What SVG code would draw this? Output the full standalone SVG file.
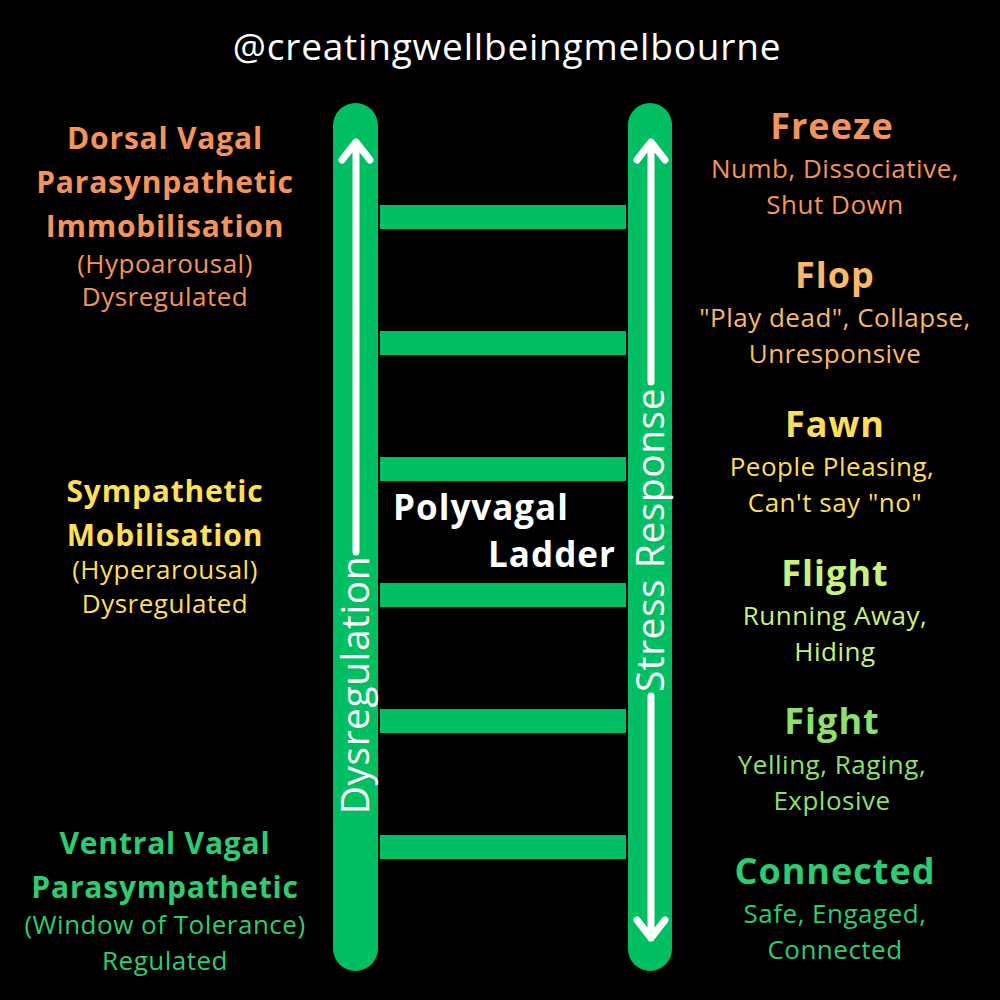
<svg xmlns="http://www.w3.org/2000/svg" width="1000" height="1000" viewBox="0 0 1000 1000">
<style>
text{font-family:"Open Sans","Noto Sans",sans-serif;text-anchor:middle}
.b{font-weight:700;font-size:35px;letter-spacing:1px}
.h{font-size:36px;font-weight:700;letter-spacing:1px}
.s{font-size:26px;letter-spacing:0.5px}
.l{font-size:30px;font-weight:700;letter-spacing:0.8px}
.v{font-size:39px;letter-spacing:0.5px;fill:#fff}
.rail{fill:#00bf63}
.w{stroke:#fff;stroke-width:7;fill:none;stroke-linecap:round;stroke-linejoin:round}
</style>
<rect width="1000" height="1000" fill="#000"/>
<text x="507" y="60" font-size="37" letter-spacing="0.8" fill="#fff">@creatingwellbeingmelbourne</text>
<g id="ladder">
<rect class="rail" x="333" y="103" width="45" height="868" rx="22.5"/>
<rect class="rail" x="628" y="103" width="44" height="868" rx="22"/>
<rect class="rail" x="380" y="205" width="246" height="24"/>
<rect class="rail" x="380" y="331" width="246" height="24"/>
<rect class="rail" x="380" y="457" width="246" height="24"/>
<rect class="rail" x="380" y="583" width="246" height="24"/>
<rect class="rail" x="380" y="709" width="246" height="24"/>
<rect class="rail" x="380" y="835" width="246" height="24"/>
</g>
<g id="connectors">
<path class="w" d="M356 552V142M342 160L356 142L370 160"/>
<path class="w" d="M651 382V142M637 160L651 142L665 160"/>
<path class="w" d="M651 696V938M637 920L651 938L665 920"/>
<text class="v" transform="translate(369 685) rotate(-90)">Dysregulation</text>
<text class="v" transform="translate(664 540) rotate(-90)">Stress Response</text>
</g>
<g id="title"><text class="b" x="481" y="520" fill="#fff">Polyvagal</text><text class="b" x="552" y="567" fill="#fff">Ladder</text></g>
<g id="dorsal" fill="#f5945a">
<text class="l" x="165" y="149">Dorsal Vagal</text>
<text class="l" x="165" y="193">Parasynpathetic</text>
<text class="l" x="165" y="237">Immobilisation</text>
<text class="s" x="165" y="273">(Hypoarousal)</text>
<text class="s" x="165" y="306">Dysregulated</text>
</g>
<g id="sympathetic" fill="#ffde59">
<text class="l" x="165" y="502">Sympathetic</text>
<text class="l" x="165" y="546">Mobilisation</text>
<text class="s" x="165" y="579">(Hyperarousal)</text>
<text class="s" x="165" y="613">Dysregulated</text>
</g>
<g id="ventral" fill="#2ecc71">
<text class="l" x="165" y="854">Ventral Vagal</text>
<text class="l" x="165" y="898">Parasympathetic</text>
<text class="s" x="165" y="934">(Window of Tolerance)</text>
<text class="s" x="165" y="970">Regulated</text>
</g>
<g id="freeze" fill="#f5945a"><text class="h" x="832" y="139">Freeze</text><text class="s" x="835" y="178">Numb, Dissociative,</text><text class="s" x="835" y="214">Shut Down</text></g>
<g id="flop" fill="#fbb86a"><text class="h" x="835" y="288">Flop</text><text class="s" x="835" y="327">"Play dead", Collapse,</text><text class="s" x="835" y="363">Unresponsive</text></g>
<g id="fawn" fill="#ffde59"><text class="h" x="835" y="437">Fawn</text><text class="s" x="832" y="476">People Pleasing,</text><text class="s" x="835" y="512">Can't say "no"</text></g>
<g id="flight" fill="#c9f27a"><text class="h" x="835" y="586">Flight</text><text class="s" x="835" y="625">Running Away,</text><text class="s" x="835" y="661">Hiding</text></g>
<g id="fight" fill="#8ee06b"><text class="h" x="832" y="734">Fight</text><text class="s" x="832" y="774">Yelling, Raging,</text><text class="s" x="832" y="810">Explosive</text></g>
<g id="connected" fill="#2ecc71"><text class="h" x="835" y="884">Connected</text><text class="s" x="835" y="923">Safe, Engaged,</text><text class="s" x="835" y="959">Connected</text></g>
</svg>
